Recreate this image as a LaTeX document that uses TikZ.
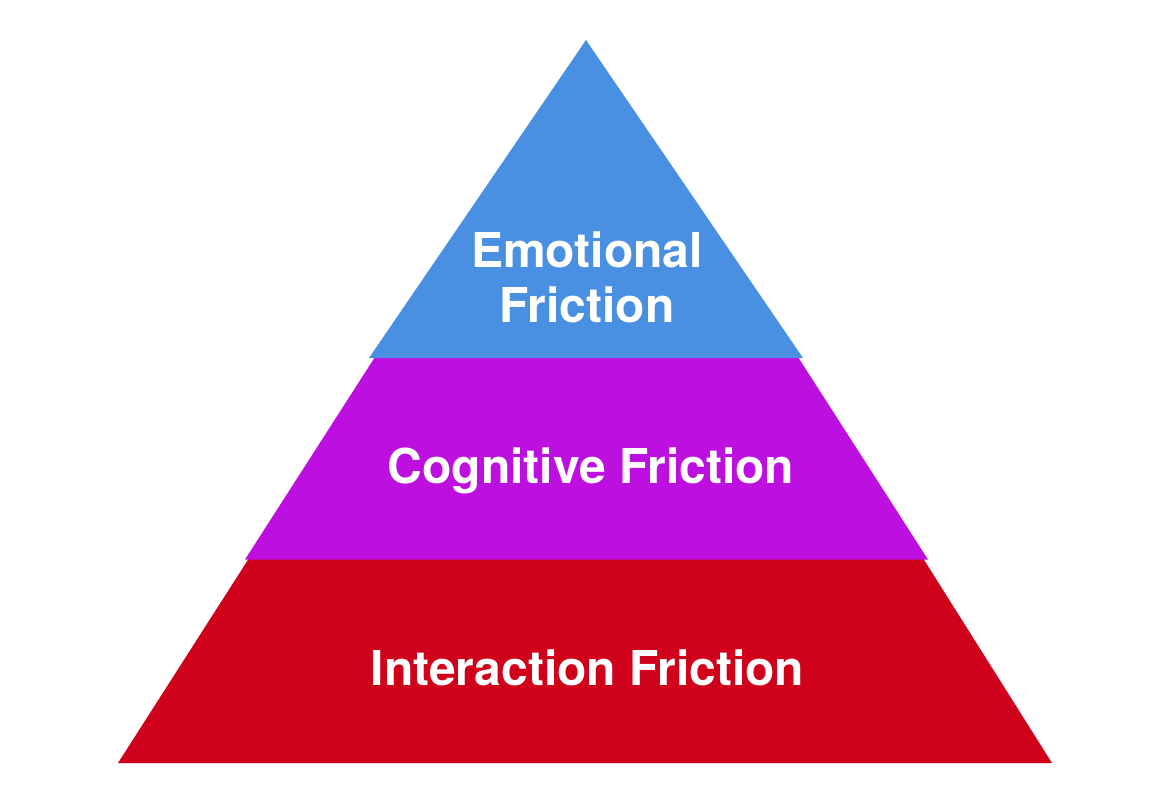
\documentclass[tikz,border=0pt]{standalone}
\usepackage{fontspec}
\setmainfont{TeX Gyre Heros}
\definecolor{topblue}{HTML}{4A90E2}
\definecolor{midmag}{HTML}{BD10E0}
\definecolor{botred}{HTML}{D0021B}
\begin{document}
\begin{tikzpicture}[x=1pt,y=-1pt,
  lbl/.style={text=white,font=\fontsize{48}{55}\selectfont\bfseries,anchor=base,inner sep=0pt,align=center}]
\useasboundingbox (0,0) rectangle (1168,806);
% bottom layer
\fill[botred] (248.5,559) -- (923.5,559) -- (1052,763) -- (118,763) -- cycle;
% middle layer
\fill[midmag] (375,357) -- (798,357) -- (928,559.5) -- (245,559.5) -- cycle;
% top layer
\fill[topblue] (586,40) -- (803,358) -- (369,358) -- cycle;
\node[lbl] (emo1) at (587,267) {Emotional};
\node[lbl] (emo2) at (587,322) {Friction};
\node[lbl] (cog) at (591,483) {Cognitive Friction};
\node[lbl] (int) at (587.5,685) {Interaction Friction};
\end{tikzpicture}
\end{document}
